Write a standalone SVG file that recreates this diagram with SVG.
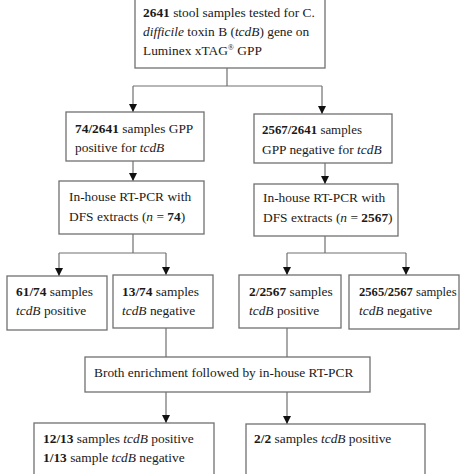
<svg xmlns="http://www.w3.org/2000/svg" width="474" height="474" viewBox="0 0 474 474">
<defs>
<marker id="ah" viewBox="0 0 10 10" refX="10" refY="5" markerWidth="8" markerHeight="8" markerUnits="userSpaceOnUse" orient="auto">
<path d="M0,0 L10,5 L0,10 Z" fill="#111"/>
</marker>
<style>
.box{fill:#fff;stroke:#707070;stroke-width:1.3}
.t{font-family:"Liberation Serif","Times New Roman",serif;font-size:13.4px;fill:#1a1a1a}
.b{font-weight:bold}
.i{font-style:italic}
.ln{fill:none;stroke:#707070;stroke-width:1.2}
</style>
</defs>
<rect width="474" height="474" fill="#fff"/>
<g id="connectors">
<path class="ln" d="M227,68 V86 M133,86 H322"/>
<path class="ln" d="M133,86 V112" marker-end="url(#ah)"/>
<path class="ln" d="M322,86 V114" marker-end="url(#ah)"/>
<path class="ln" d="M133,161 V181" marker-end="url(#ah)"/>
<path class="ln" d="M325,163 V184" marker-end="url(#ah)"/>
<path class="ln" d="M133,234 V253 M59,253 H166"/>
<path class="ln" d="M59,253 V276" marker-end="url(#ah)"/>
<path class="ln" d="M166,253 V275" marker-end="url(#ah)"/>
<path class="ln" d="M325,236 V253 M287,253 H406"/>
<path class="ln" d="M287,253 V275" marker-end="url(#ah)"/>
<path class="ln" d="M406,253 V275" marker-end="url(#ah)"/>
<path class="ln" d="M166,328 V357 M287,328 V357"/>
<path class="ln" d="M166,392 V423" marker-end="url(#ah)"/>
<path class="ln" d="M287,392 V424" marker-end="url(#ah)"/>
</g>
<g id="n1">
<rect class="box" x="135" y="-2" width="190" height="70"/>
<text class="t" x="143" y="17"><tspan class="b">2641</tspan> stool samples tested for C.</text>
<text class="t" x="143" y="36"><tspan class="i">difficile</tspan> toxin B (<tspan class="i">tcdB</tspan>) gene on</text>
<text class="t" x="143" y="55">Luminex xTAG<tspan font-size="8" dy="-5">®</tspan><tspan dy="5"> GPP</tspan></text>
</g>
<g id="n2">
<rect class="box" x="66" y="112" width="138" height="49"/>
<text class="t" x="75" y="133"><tspan class="b">74/2641</tspan> samples GPP</text>
<text class="t" x="75" y="152">positive for <tspan class="i">tcdB</tspan></text>
</g>
<g id="n3">
<rect class="box" x="254" y="114" width="138" height="49"/>
<text class="t" x="262" y="134" style="font-size:12.9px"><tspan class="b">2567/2641</tspan> samples</text>
<text class="t" x="262" y="154">GPP negative for <tspan class="i">tcdB</tspan></text>
</g>
<g id="n4">
<rect class="box" x="59" y="181" width="145" height="53"/>
<text class="t" x="69" y="201">In-house RT-PCR with</text>
<text class="t" x="69" y="221">DFS extracts (<tspan class="i">n</tspan> = <tspan class="b">74</tspan>)</text>
</g>
<g id="n5">
<rect class="box" x="254" y="184" width="144" height="52"/>
<text class="t" x="263" y="202">In-house RT-PCR with</text>
<text class="t" x="263" y="222">DFS extracts (<tspan class="i">n</tspan> = <tspan class="b">2567</tspan>)</text>
</g>
<g id="n6">
<rect class="box" x="7" y="276" width="100" height="54"/>
<text class="t" x="16" y="296"><tspan class="b">61/74</tspan> samples</text>
<text class="t" x="16" y="315"><tspan class="i">tcdB</tspan> positive</text>
</g>
<g id="n7">
<rect class="box" x="113" y="275" width="100" height="53"/>
<text class="t" x="122" y="296"><tspan class="b">13/74</tspan> samples</text>
<text class="t" x="122" y="315"><tspan class="i">tcdB</tspan> negative</text>
</g>
<g id="n8">
<rect class="box" x="239" y="275" width="102" height="53"/>
<text class="t" x="249" y="296"><tspan class="b">2/2567</tspan> samples</text>
<text class="t" x="249" y="315"><tspan class="i">tcdB</tspan> positive</text>
</g>
<g id="n9">
<rect class="box" x="349" y="275" width="110" height="54"/>
<text class="t" x="359" y="296" style="font-size:12.6px"><tspan class="b">2565/2567</tspan> samples</text>
<text class="t" x="359" y="315"><tspan class="i">tcdB</tspan> negative</text>
</g>
<g id="n10">
<rect class="box" x="85" y="357" width="285" height="35"/>
<text class="t" x="94" y="377">Broth enrichment followed by in-house RT-PCR</text>
</g>
<g id="n11">
<rect class="box" x="34" y="423" width="180" height="60"/>
<text class="t" x="43" y="443"><tspan class="b">12/13</tspan> samples <tspan class="i">tcdB</tspan> positive</text>
<text class="t" x="43" y="462"><tspan class="b">1/13</tspan> sample <tspan class="i">tcdB</tspan> negative</text>
</g>
<g id="n12">
<rect class="box" x="246" y="424" width="179" height="60"/>
<text class="t" x="254" y="443"><tspan class="b">2/2</tspan> samples <tspan class="i">tcdB</tspan> positive</text>
</g>
</svg>
